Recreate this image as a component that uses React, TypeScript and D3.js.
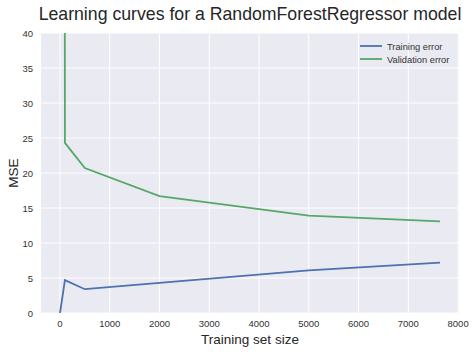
import React from "react";
import * as d3 from "d3";

const trainSizes = [1, 100, 500, 2000, 5000, 7636];
const trainingError = [0, 4.7, 3.4, 4.3, 6.1, 7.2];
const validationError = [700, 24.3, 20.7, 16.7, 13.9, 13.1];
const xTicks = [0, 1000, 2000, 3000, 4000, 5000, 6000, 7000, 8000];
const yTicks = [0, 5, 10, 15, 20, 25, 30, 35, 40];
const seriesNames = ["Training error", "Validation error"];
const seriesColors = ["#4C72B0", "#55A868"];

const W = 474, H = 352;
const m = { left: 41, right: 15, top: 33, bottom: 39 };

export default function App() {
  const x = d3.scaleLinear().domain([-381, 8018]).range([m.left, W - m.right]);
  const y = d3.scaleLinear().domain([0, 40]).range([H - m.bottom, m.top]);
  const line = d3.line<number>().x((_, i) => x(trainSizes[i])).y((d) => y(d));
  const font = "'Liberation Sans', Arial, sans-serif";
  const series = [trainingError, validationError];
  return (
    <svg width={W} height={H} style={{ position: "absolute", left: 0, top: 0 }} fontFamily={font}>
      <rect width={W} height={H} fill="#fff" />
      <defs>
        <clipPath id="plot">
          <rect x={m.left} y={m.top} width={W - m.left - m.right} height={H - m.top - m.bottom} />
        </clipPath>
      </defs>
      <rect x={m.left} y={m.top} width={W - m.left - m.right} height={H - m.top - m.bottom} fill="#EAEAF2" />
      {xTicks.map((t) => (
        <line key={"gx" + t} x1={x(t)} x2={x(t)} y1={m.top} y2={H - m.bottom} stroke="#fff" strokeWidth={1} />
      ))}
      {yTicks.map((t) => (
        <line key={"gy" + t} x1={m.left} x2={W - m.right} y1={y(t)} y2={y(t)} stroke="#fff" strokeWidth={1} />
      ))}
      <g clipPath="url(#plot)">
        {series.map((s, i) => (
          <path key={i} d={line(s) || ""} fill="none" stroke={seriesColors[i]} strokeWidth={1.8} />
        ))}
      </g>
      {xTicks.map((t) => (
        <text key={"tx" + t} x={x(t)} y={H - m.bottom + 14} fontSize={9.5} fill="#333" textAnchor="middle">
          {t}
        </text>
      ))}
      {yTicks.map((t) => (
        <text key={"ty" + t} x={m.left - 8} y={y(t) + 3.5} fontSize={9.5} fill="#333" textAnchor="end">
          {t}
        </text>
      ))}
      <text x={(m.left + W - m.right) / 2} y={344} fontSize={13.5} fill="#262626" textAnchor="middle">
        Training set size
      </text>
      <text transform={`translate(18,${(m.top + H - m.bottom) / 2}) rotate(-90)`} fontSize={13.5} fill="#262626" textAnchor="middle">
        MSE
      </text>
      <text x={(m.left + W - m.right) / 2} y={20} fontSize={17.7} fill="#262626" textAnchor="middle">
        Learning curves for a RandomForestRegressor model
      </text>
      {seriesNames.map((n, i) => (
        <g key={n}>
          <line x1={360} x2={382} y1={46 + i * 13} y2={46 + i * 13} stroke={seriesColors[i]} strokeWidth={1.8} />
          <text x={387} y={49.5 + i * 13} fontSize={9.3} fill="#333">
            {n}
          </text>
        </g>
      ))}
    </svg>
  );
}
